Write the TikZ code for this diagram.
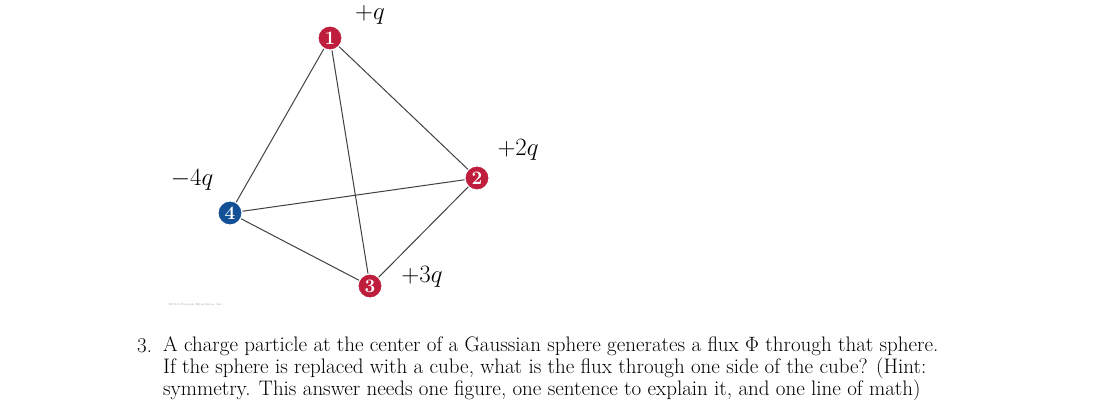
\documentclass[tikz,border=0pt]{standalone}
\definecolor{cred}{RGB}{190,30,60}
\definecolor{cblue}{RGB}{20,80,150}
\begin{document}
\begin{tikzpicture}[x=1pt,y=-1pt,
  chg/.style={circle,draw=white,line width=1pt,minimum size=24pt,inner sep=0pt,text=white,font=\bfseries\fontsize{19}{19}\selectfont},
  edge/.style={draw=black!75,line width=1pt},
  lab/.style={font=\fontsize{25}{25}\selectfont},
  txt/.style={anchor=west,font=\fontsize{21}{22}\selectfont,inner sep=0pt}]
\useasboundingbox (0,0) rectangle (1097,413);
\node[chg,fill=cred] (n1) at (330,38) {1};
\node[chg,fill=cred] (n2) at (477,178) {2};
\node[chg,fill=cred] (n3) at (370,286) {3};
\node[chg,fill=cblue] (n4) at (230,213) {4};
\draw[edge] (n1)--(n2) (n1)--(n3) (n1)--(n4) (n2)--(n3) (n2)--(n4) (n3)--(n4);
\node[lab] (l1) at (370,15) {$+q$};
\node[lab] (l2) at (518,150) {$+2q$};
\node[lab] (l4) at (192,180) {$-4q$};
\node[lab] (l3) at (422,277) {$+3q$};
\node[font=\fontsize{3}{3}\selectfont,text=black!40] (cp) at (196,305) {\copyright 2016 Pearson Education, Inc.};
\node[txt] (t0) at (137,346) {3.};
\node[txt] (t1) at (163,346) {A charge particle at the center of a Gaussian sphere generates a flux $\Phi$ through that sphere.};
\node[txt] (t2) at (163,368) {If the sphere is replaced with a cube, what is the flux through one side of the cube? (Hint:};
\node[txt] (t3) at (163,390) {symmetry. This answer needs one figure, one sentence to explain it, and one line of math)};
\end{tikzpicture}
\end{document}
